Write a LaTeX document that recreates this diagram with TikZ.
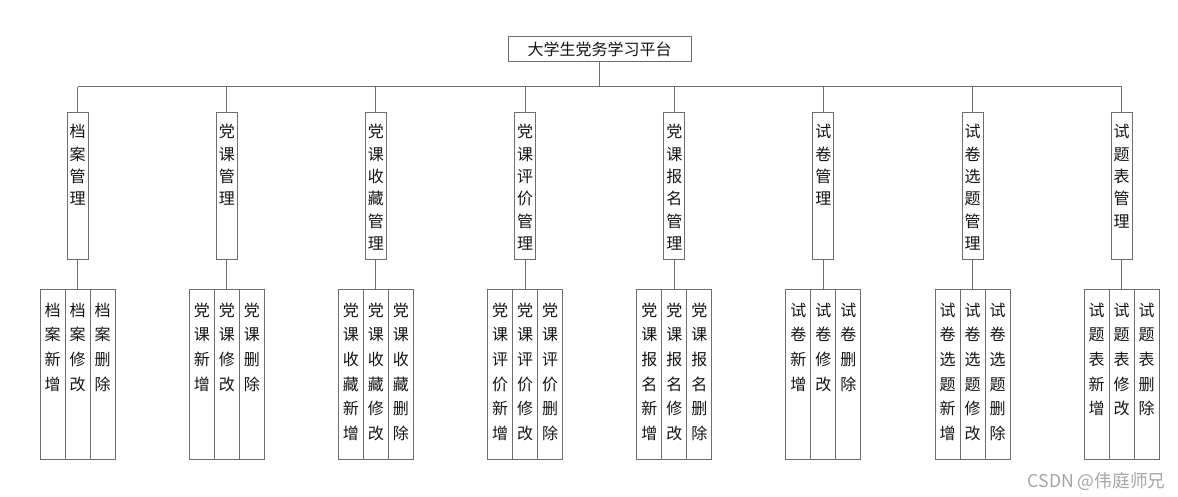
\documentclass[tikz,border=0pt]{standalone}
\usepackage{fontspec}
\setmainfont{Noto Sans CJK SC}
\definecolor{linegray}{RGB}{110,110,110}
\definecolor{textblack}{RGB}{20,20,20}
\definecolor{wmgray}{RGB}{165,165,165}
\makeatletter
\def\vst@loop#1{\ifx#1\vst@end\else\hbox{#1}\expandafter\vst@loop\fi}
\def\vst@end{\vst@end}
\newcommand\vstack[2]{\vtop{\baselineskip=#1\relax\lineskiplimit=-100pt\lineskip=0pt\vst@loop#2\vst@end}}
\makeatother
\newcommand\branch[3]{%
  \coordinate (b#1) at (#2,87);
  \node[lvtwo] (L#1) at (#2,112) {};
  \node[vtxt] (LT#1) at (#2,138) {\vstack{22.3pt}{#3管理}};
  \node[lvthree] (A#1) at (#2-25,289) {};
  \node[lvthree] (M#1) at (#2,289) {};
  \node[lvthree] (C#1) at (#2+25,289) {};
  \node[vtxt] (AT#1) at (#2-25,316) {\vstack{24.7pt}{#3新增}};
  \node[vtxt] (MT#1) at (#2,316) {\vstack{24.7pt}{#3修改}};
  \node[vtxt] (CT#1) at (#2+25,316) {\vstack{24.7pt}{#3删除}};
  \draw[conn] (b#1) -- (L#1.north);
  \draw[conn] (L#1.south) -- (M#1.north);
}
\begin{document}
\begin{tikzpicture}[x=1pt,y=-1pt,line width=1pt,
  rootbox/.style={draw=linegray,minimum width=183pt,minimum height=25pt,inner sep=0pt,text=textblack,font=\fontsize{16pt}{16pt}\selectfont},
  lvtwo/.style={draw=linegray,minimum width=21pt,minimum height=147pt,inner sep=0pt,anchor=north},
  lvthree/.style={draw=linegray,minimum width=25pt,minimum height=170pt,inner sep=0pt,anchor=north},
  vtxt/.style={anchor=base,inner sep=0pt,text=textblack,font=\fontsize{16pt}{16pt}\selectfont},
  conn/.style={draw=linegray}]
\useasboundingbox (0,0) rectangle (1178,497);
\node[rootbox] (root) at (599.7,49.5) {大学生党务学习平台};
\branch{0}{77.7}{档案}
\branch{1}{226.84}{党课}
\branch{2}{375.98}{党课收藏}
\branch{3}{525.12}{党课评价}
\branch{4}{674.26}{党课报名}
\branch{5}{823.4}{试卷}
\branch{6}{972.54}{试卷选题}
\branch{7}{1121.68}{试题表}
\draw[conn] (b0) -- (b7);
\draw[conn] (root.south) -- (root.south |- b0);
\node[anchor=base east,inner sep=0pt,text=wmgray,font=\fontsize{17.7pt}{17.7pt}\selectfont] (wm) at (1166,487) {CSDN @伟庭师兄};
\end{tikzpicture}
\end{document}
